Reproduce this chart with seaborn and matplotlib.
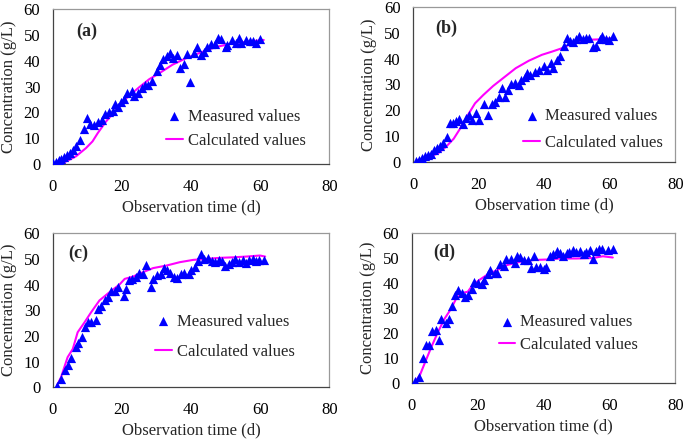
import numpy as np
import pandas as pd
import matplotlib
matplotlib.use("Agg")
import matplotlib.pyplot as plt
import seaborn as sns

# ----------------------------
# Data
# ----------------------------
a_meas_t = [0, 0.8, 1.7, 2.4, 3.2, 4.1, 5, 5.8, 6.7, 8, 8.9, 10, 10.9, 12, 13.2, 14.1, 15, 16.2,
            17.3, 18, 19, 19.8, 20.7, 21.6, 22.8, 23.6, 24.7, 25.7, 26.7, 27.6, 28.7, 30, 31, 32,
            33, 33.9, 34.8, 35.8, 36.7, 37.8, 38.7, 39.8, 40.7, 41.8, 43, 43.8, 44.7, 45.7, 46.8,
            47.8, 48.6, 50, 50.5, 51.7, 53, 53.8, 54.5, 55.8, 57, 57.9, 58.8, 59.9]
a_meas_c = [0.4, 1, 1.5, 2, 2.6, 3.5, 4.5, 5.5, 7.2, 9.4, 13.7, 17.8, 15.5, 15, 16.5, 17.2, 19.5, 20,
            20.6, 23.2, 22, 24.2, 25.2, 27.7, 28.4, 26.2, 27.7, 29.4, 30.7, 30.5, 32.3, 35.9, 38.5,
            40.7, 41.7, 43, 41.3, 42.3, 37.4, 38.7, 42.6, 32, 43.2, 45.2, 42.3, 43.6, 45.2, 46.6,
            46.6, 48.8, 48.4, 45.5, 46.2, 48, 46.8, 48.8, 46.8, 48.1, 47.7, 47.7, 46.8, 48.4]
a_calc_t = [2.9, 6.7, 9.6, 11.5, 13, 15.4, 18.3, 21, 25, 27.9, 30.8, 34.6, 38.5, 42.3, 47, 52, 56.7, 61]
a_calc_c = [0.4, 3, 6.2, 8.8, 12, 16.5, 21, 25.2, 29.8, 32.9, 35.2, 38.5, 41, 43, 45.3, 46.8, 47.5, 48.1]

b_meas_t = [1, 1.7, 2.7, 3.7, 4.7, 5.5, 6.3, 7.2, 8.2, 9.2, 10.4, 11.2, 12.2, 13.2, 14.1, 15.1, 16.2,
            17.2, 18.1, 19.2, 20.1, 21.6, 22.8, 24.1, 25.1, 26.1, 27.1, 27.9, 28.9, 29.9, 31, 32.3,
            32.8, 34, 34.8, 35.8, 37.3, 38.5, 39.8, 40.8, 42, 42.8, 43.8, 44.8, 46, 46.8, 47.8, 48.8,
            49.8, 50.7, 51.7, 52.7, 53.7, 54.9, 55.9, 56.9, 57.7, 58.7, 59.7, 60.9]
b_meas_c = [0.4, 0.9, 1.7, 2.3, 2.5, 3.2, 4.8, 5.3, 6.2, 7.4, 9.7, 14.9, 15.2, 15.9, 16.8, 14.5, 17.2,
            18.1, 16.2, 19, 16.2, 22.3, 18.1, 22.4, 23.3, 25, 28.5, 25.3, 27.9, 30.2, 30.4, 29.8,
            31.7, 33, 34.6, 33.7, 35, 35.6, 37.2, 35.6, 38.2, 36.3, 39.4, 41, 44.9, 47.9, 47, 46.6,
            47.5, 48.8, 47.5, 47.9, 47.9, 44.7, 44.9, 47.5, 48.8, 47.5, 47.3, 48.6]
b_calc_t = [1, 4.5, 7.5, 10, 12.4, 14.4, 16.4, 18.9, 21.4, 24.4, 27.4, 31.3, 35.3, 39.3, 42.3, 45.3,
            49.3, 53.2, 57.2, 60.7]
b_calc_c = [0.4, 1.9, 3.2, 5.8, 9, 13, 17.5, 22.7, 25.9, 29.4, 32.4, 36.3, 39.2, 41.5, 42.7, 44,
            46.4, 47.3, 47.5, 47.9]

c_meas_t = [1.2, 2.4, 3.4, 4.3, 5.3, 6.6, 7.4, 8.4, 9.2, 10.1, 11.1, 12.4, 13.2, 14, 15, 16, 16.9,
            18.1, 19, 20.5, 21.3, 22, 22.9, 24, 24.9, 26.1, 26.9, 28.5, 29, 30, 31.2, 32.1, 33.1, 34,
            35, 36, 37.2, 37.9, 39.4, 40.1, 41.1, 42, 42.8, 43.8, 44.9, 45.9, 46.9, 48, 49, 49.9,
            50.9, 51.9, 52.8, 53.8, 54.9, 55.8, 56.8, 58, 58.7, 59.7, 61]
c_meas_c = [0.6, 3.2, 6.7, 8.8, 11.3, 15.8, 17.1, 19.7, 23.6, 25.3, 25.3, 26.2, 30.5, 31.8, 33.8,
            35.1, 37.3, 37.3, 39, 35.6, 38.1, 41.9, 42.3, 42.9, 44.5, 44, 47.5, 39, 42.3, 43.6, 44,
            46.6, 45.5, 44.5, 43.1, 42.6, 44.2, 44.5, 44.2, 45.7, 47, 49.1, 51.9, 49.9, 50.3, 49.1,
            48.7, 49.4, 49.1, 47.4, 48.1, 48.7, 49.9, 48.7, 49.4, 48.4, 49.6, 49.9, 49.1, 49.6, 49.6]
c_calc_t = [1.2, 2.4, 4.3, 5.8, 7.2, 9.2, 11.1, 13.5, 16.4, 19.3, 20.8, 23.2, 26.1, 29, 32.9, 36.7,
            40.6, 44.4, 48.3, 52.2, 56, 59.9, 61.4]
c_calc_c = [0.6, 3.9, 11.7, 14.9, 21.4, 25.3, 29.2, 33.8, 37, 40, 42.2, 43.1, 44.8, 46.4, 47.4,
            48.7, 49.6, 50, 50.4, 50.6, 50.9, 51.3, 50.9]

d_meas_t = [1, 2.2, 3.3, 4.3, 5.3, 6.2, 7.3, 8.2, 9, 10.5, 11.3, 12.2, 13.2, 14.2, 15.2, 16.2, 17.2,
            18.2, 18.8, 20, 21.3, 22, 23, 23.7, 25.3, 26, 26.7, 28, 28.7, 30, 31.3, 32, 33, 34, 35.3,
            36.3, 37, 37.8, 39, 40, 40.8, 42, 43, 44, 45, 45.8, 47, 47.8, 48.8, 49.8, 51, 52.2, 52.8,
            54, 55, 56, 56.8, 57.8, 59.5, 61]
d_meas_c = [0.7, 2.4, 10, 15.3, 15.3, 20.7, 21.1, 17.1, 25.7, 24, 25.5, 30.7, 35.3, 37.1, 36.1,
            34.4, 35.1, 37.5, 40.3, 39.9, 39.7, 41.3, 43.7, 45.1, 44, 44, 47.7, 46.7, 49.5, 49.5, 48,
            50.7, 50.4, 49.3, 49.1, 46.1, 50.7, 46.4, 46.4, 45.5, 46.4, 50.7, 51.7, 52.7, 52, 50.7,
            52, 52.4, 53.3, 52.4, 52.7, 51.7, 52.4, 53.3, 49.5, 52.7, 53.7, 53.7, 53.1, 53.7]
d_calc_t = [1, 2.5, 4, 6, 8, 10, 12, 13.5, 15.5, 17, 18.5, 20.5, 23, 26, 29, 33, 37, 41, 45, 50, 55,
            58, 61]
d_calc_c = [0.4, 3.1, 8, 14.4, 20.4, 25.7, 29.7, 33.7, 36, 36.4, 39.1, 41.1, 43.3, 45.1, 47.1, 48.4,
            49.1, 49.3, 49.7, 49.7, 49.9, 50.6, 50.1]

panel_labels = ["(a)", "(b)", "(c)", "(d)"]
x_ticks = [0, 20, 40, 60, 80]
y_ticks = [0, 10, 20, 30, 40, 50, 60]

sns.set_style("white")
plt.rcParams["font.family"] = ["Liberation Serif", "DejaVu Serif"]
plt.rcParams["font.size"] = 12

fig = plt.figure(figsize=(6.85, 4.4), dpi=100)

# axes boxes [left, bottom, width, height] in figure fraction
boxes = [[0.077, 0.627, 0.404, 0.352],
         [0.603, 0.632, 0.383, 0.352],
         [0.077, 0.120, 0.404, 0.350],
         [0.601, 0.130, 0.385, 0.341]]
label_pos = [(0.085, 0.86), (0.085, 0.86), (0.055, 0.87), (0.08, 0.87)]
legend_anchor = [(0.385, 0.40), (0.395, 0.39), (0.345, 0.52), (0.305, 0.50)]
legend_spacing = [0.5, 0.65, 0.85, 0.4]

data = [(a_meas_t, a_meas_c, a_calc_t, a_calc_c),
        (b_meas_t, b_meas_c, b_calc_t, b_calc_c),
        (c_meas_t, c_meas_c, c_calc_t, c_calc_c),
        (d_meas_t, d_meas_c, d_calc_t, d_calc_c)]

for i, (mt, mc, ct, cc) in enumerate(data):
    ax = fig.add_axes(boxes[i])
    meas = pd.DataFrame({"t": mt, "c": mc})
    calc = pd.DataFrame({"t": ct, "c": cc})
    sns.scatterplot(x="t", y="c", data=meas, ax=ax, marker="^", color="#0000ff",
                    s=44, edgecolor="#0000ff", linewidth=0, label="Measured values", zorder=3)
    sns.lineplot(x="t", y="c", data=calc, ax=ax, color="#ff00ff", linewidth=1.5,
                 label="Calculated values", zorder=2)
    ax.set_xlim(0, 80)
    ax.set_ylim(0, 60)
    ax.set_xticks(x_ticks)
    ax.set_yticks(y_ticks)
    ax.tick_params(axis="x", pad=11)
    ax.tick_params(axis="y", pad=9)
    ax.tick_params(direction="in", length=3, width=0.8, colors="#555555",
                   labelcolor="black", labelsize=12)
    ax.set_xlabel("Observation time (d)", fontsize=12, labelpad=3)
    ax.set_ylabel("Concentration (g/L)", fontsize=12, labelpad=5)
    for side in ["left", "bottom"]:
        ax.spines[side].set_color("#444444")
        ax.spines[side].set_linewidth(0.9)
    for side in ["top", "right"]:
        ax.spines[side].set_color("#999999")
        ax.spines[side].set_linewidth(0.9)
    ax.text(label_pos[i][0], label_pos[i][1], panel_labels[i], transform=ax.transAxes,
            fontsize=13, fontweight="bold", va="center")
    ax.legend(loc="upper left", bbox_to_anchor=legend_anchor[i], frameon=False,
              fontsize=12, handlelength=1.0, handletextpad=0.3,
              labelspacing=legend_spacing[i], borderaxespad=0)

plt.savefig("out.png", dpi=100)
